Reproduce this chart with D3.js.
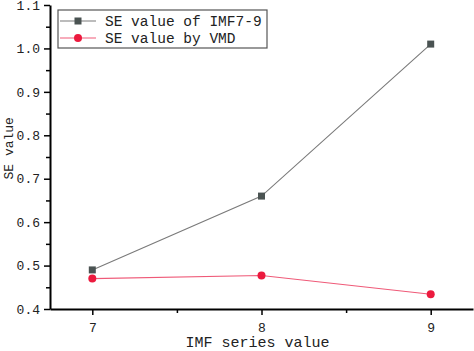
<!DOCTYPE html>
<html>
<head>
<meta charset="utf-8">
<script src="https://cdn.jsdelivr.net/npm/d3@7"></script>
<style>
  body { margin: 0; background: #fff; }
</style>
</head>
<body>
<div id="chart"></div>
<script>
// data
const imfSeries = [7, 8, 9];
const seImf = [0.49, 0.66, 1.01];
const seVmd = [0.47, 0.477, 0.434];
const seriesNames = ["SE value of IMF7-9", "SE value by VMD"];
const yTicks = [0.4, 0.5, 0.6, 0.7, 0.8, 0.9, 1.0, 1.1];

const FONT = "'Liberation Mono', 'Courier New', monospace";
const W = 474, H = 351;
const margin = {top: 5, right: 1, bottom: 42, left: 50};
const width = W - margin.left - margin.right;
const height = H - margin.top - margin.bottom;

const svg = d3.select("#chart").append("svg")
    .attr("width", W)
    .attr("height", H)
    .attr("font-family", FONT);

const g = svg.append("g")
    .attr("transform", "translate(" + margin.left + "," + margin.top + ")");

// scales
const x = d3.scaleLinear().domain([6.75, 9.25]).range([0, width]);
const y = d3.scaleLinear().domain([0.4, 1.1]).range([height, 0]);

// minor ticks
g.append("g")
    .attr("transform", "translate(0," + height + ")")
    .call(d3.axisBottom(x).tickValues([7.5, 8.5]).tickSize(4).tickFormat(""))
    .call(a => a.select(".domain").remove())
    .selectAll("line").attr("stroke", "#000").attr("stroke-width", 1.5);
g.append("g")
    .call(d3.axisLeft(y).tickValues(d3.range(0.45, 1.1, 0.1)).tickSize(4).tickFormat(""))
    .call(a => a.select(".domain").remove())
    .selectAll("line").attr("stroke", "#000").attr("stroke-width", 1.5);

// major axes
const xAxis = g.append("g")
    .attr("transform", "translate(0," + height + ")")
    .call(d3.axisBottom(x).tickValues(imfSeries).tickSize(6).tickPadding(8).tickSizeOuter(0)
        .tickFormat(d3.format("d")));
const yAxis = g.append("g")
    .call(d3.axisLeft(y).tickValues(yTicks).tickSize(6).tickPadding(4).tickSizeOuter(0)
        .tickFormat(d3.format(".1f")));

[xAxis, yAxis].forEach(a => {
    a.attr("font-family", FONT).attr("font-size", 13);
    a.select(".domain").attr("stroke", "#000").attr("stroke-width", 2);
    a.selectAll(".tick line").attr("stroke", "#000").attr("stroke-width", 1.5);
    a.selectAll(".tick text").attr("fill", "#222");
});

// axis titles
svg.append("text")
    .attr("x", margin.left + x(8) - 4)
    .attr("y", 347)
    .attr("text-anchor", "middle")
    .attr("font-size", 15)
    .attr("fill", "#222")
    .text("IMF series value");
svg.append("text")
    .attr("transform", "translate(13," + (margin.top + y(0.77)) + ") rotate(-90)")
    .attr("text-anchor", "middle")
    .attr("font-size", 13)
    .attr("fill", "#222")
    .text("SE value");

// lines
const line = d3.line()
    .x((d, i) => x(imfSeries[i]))
    .y(d => y(d));

g.append("path")
    .datum(seImf)
    .attr("d", line)
    .attr("fill", "none")
    .attr("stroke", "#7a7a7a")
    .attr("stroke-width", 1.1);
g.append("path")
    .datum(seVmd)
    .attr("d", line)
    .attr("fill", "none")
    .attr("stroke", "#ef5a78")
    .attr("stroke-width", 1.1);

// markers
g.selectAll(".sq")
    .data(seImf)
    .enter().append("rect")
    .attr("class", "sq")
    .attr("x", (d, i) => x(imfSeries[i]) - 3.5)
    .attr("y", d => y(d) - 3.5)
    .attr("width", 7)
    .attr("height", 7)
    .attr("fill", "#4a5352");
g.selectAll(".dot")
    .data(seVmd)
    .enter().append("circle")
    .attr("class", "dot")
    .attr("cx", (d, i) => x(imfSeries[i]))
    .attr("cy", d => y(d))
    .attr("r", 4)
    .attr("fill", "#ec1a3e");

// legend
const legend = svg.append("g").attr("transform", "translate(58,10)");
legend.append("rect")
    .attr("width", 209)
    .attr("height", 38)
    .attr("fill", "#fff")
    .attr("stroke", "#555")
    .attr("stroke-width", 1.2);

const legendColors = [{line: "#7a7a7a", mark: "#4a5352"}, {line: "#ef5a78", mark: "#ec1a3e"}];
seriesNames.forEach((name, i) => {
    const row = legend.append("g").attr("transform", "translate(0," + (11 + i * 17) + ")");
    row.append("line")
        .attr("x1", 2).attr("x2", 38)
        .attr("stroke", legendColors[i].line)
        .attr("stroke-width", 1.1);
    if (i === 0) {
        row.append("rect").attr("x", 16.5).attr("y", -3.5).attr("width", 7).attr("height", 7)
            .attr("fill", legendColors[i].mark);
    } else {
        row.append("circle").attr("cx", 20).attr("r", 4).attr("fill", legendColors[i].mark);
    }
    row.append("text")
        .attr("x", 47)
        .attr("y", 5)
        .attr("font-size", 14.5)
        .attr("fill", "#222")
        .text(name);
});
</script>
</body>
</html>
